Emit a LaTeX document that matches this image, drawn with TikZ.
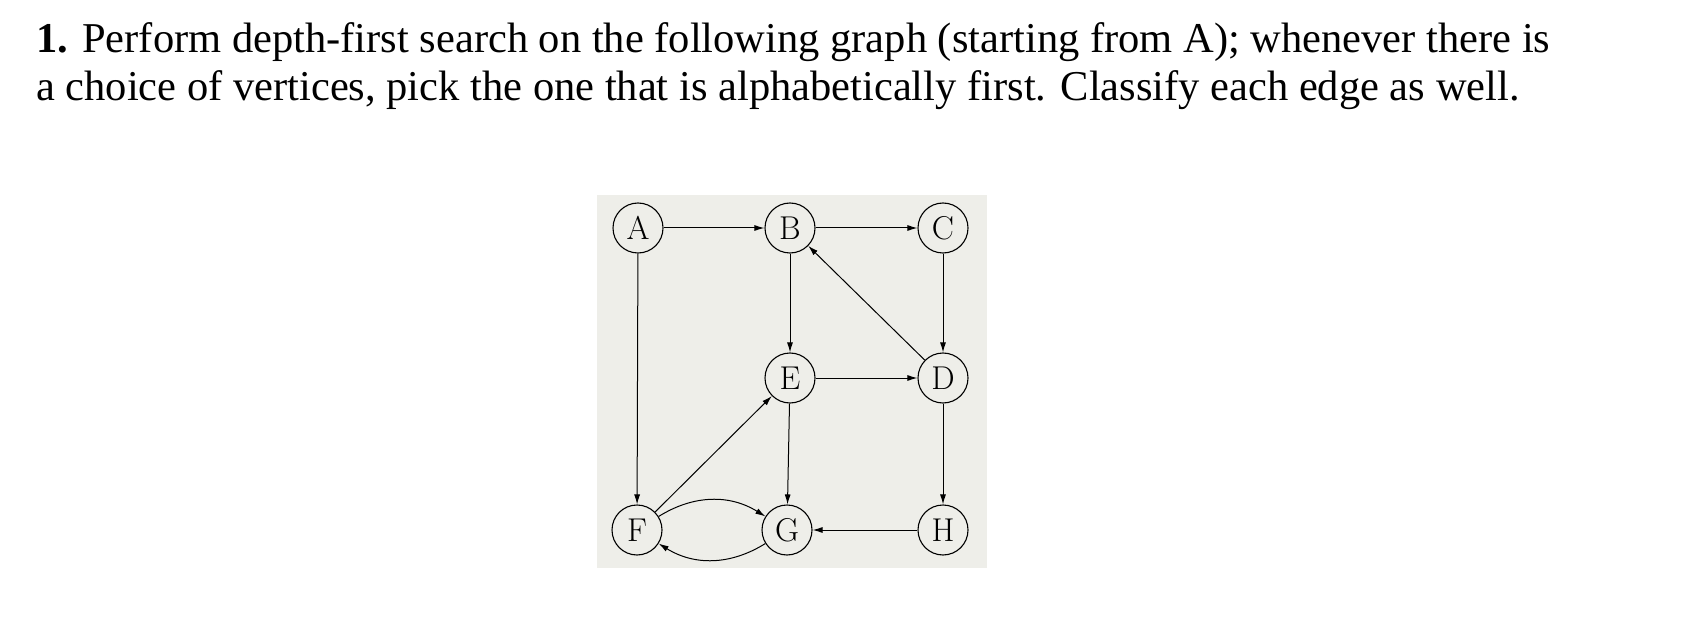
\documentclass[tikz,border=0pt]{standalone}
\usepackage{fontspec}
\setmainfont{Liberation Serif}
\newfontfamily\lmfont{Latin Modern Roman}
\usetikzlibrary{arrows.meta}
\definecolor{paper}{rgb}{0.935,0.935,0.915}
\begin{document}
\begin{tikzpicture}[x=1pt,y=-1pt,
  vtx/.style={circle,draw,line width=1.1pt,minimum size=50pt,inner sep=0pt,font=\lmfont\fontsize{33}{33}\selectfont},
  arr/.style={draw,line width=1pt,-{Latex[length=10pt,width=6pt]}},
  title/.style={anchor=base west,inner sep=0pt,font=\fontsize{42.5}{48}\selectfont}]
\useasboundingbox (0,0) rectangle (1708,628);
\fill[white] (0,0) rectangle (1708,628);
\fill[paper] (597,195) rectangle (987,568);
\node[title] (t1) at (36,53) {\textbf{1.} Perform depth-first search on the following graph (starting from A); whenever there is};
\node[title] (t2) at (36,101) {a choice of vertices, pick the one that is alphabetically first. Classify each edge as well.};
\node[vtx] (A) at (638,228) {A};
\node[vtx] (B) at (790,228) {B};
\node[vtx] (C) at (943,228) {C};
\node[vtx] (E) at (790,378) {E};
\node[vtx] (D) at (943,378) {D};
\node[vtx] (F) at (637,530) {F};
\node[vtx] (G) at (787,530) {G};
\node[vtx] (H) at (943,530) {H};
\draw[arr] (A) -- (B);
\draw[arr] (B) -- (C);
\draw[arr] (A) -- (F);
\draw[arr] (B) -- (E);
\draw[arr] (C) -- (D);
\draw[arr] (D) -- (B);
\draw[arr] (E) -- (D);
\draw[arr] (E) -- (G);
\draw[arr] (D) -- (H);
\draw[arr] (F) -- (E);
\draw[arr] (H) -- (G);
\draw[arr] (F) to[bend left=32] (G);
\draw[arr] (G) to[bend left=32] (F);
\end{tikzpicture}
\end{document}
